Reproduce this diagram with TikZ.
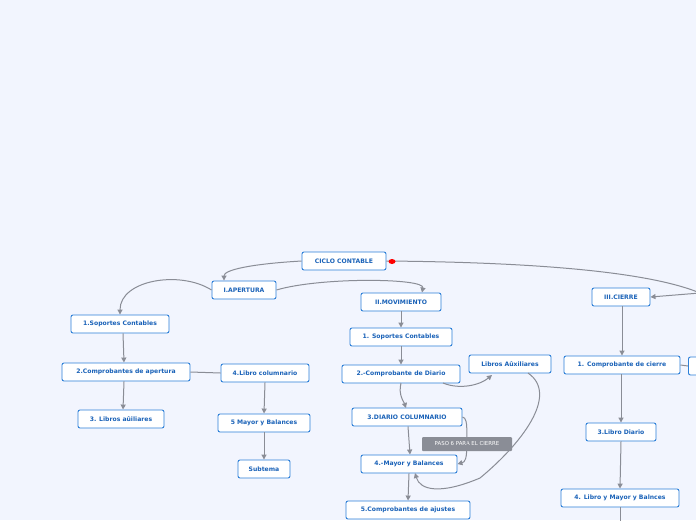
\documentclass[tikz,border=0pt]{standalone}
\usepackage{fontspec}
\setmainfont{DejaVu Sans}
\usetikzlibrary{arrows.meta}
\definecolor{bg}{HTML}{F2F5FE}
\definecolor{bl}{HTML}{2C7FD8}
\definecolor{tx}{HTML}{1A62B8}
\definecolor{ln}{HTML}{8A8D96}
\tikzset{x=1pt,y=-1pt,
 box/.style={draw=bl,fill=white,rounded corners=2pt,line width=0.9pt,minimum height=18,inner sep=0pt,font=\fontsize{6.1}{7}\selectfont\bfseries,text=tx},
 con/.style={draw=ln,line width=1pt,-{Triangle[length=5pt,width=5pt]}},
 pl/.style={draw=ln,line width=1pt}}
\begin{document}
\begin{tikzpicture}
\fill[bg] (0,0) rectangle (696,520);
\useasboundingbox (0,0) rectangle (696,520);
\node[box,minimum width=84] (c) at (344,261) {CICLO CONTABLE};
\node[box,minimum width=64] (a) at (244,290) {I.APERTURA};
\node[box,minimum width=80] (m) at (401,302) {II.MOVIMIENTO};
\node[box,minimum width=58] (ci) at (621,297) {III.CIERRE};
\node[box,minimum width=98] (a1) at (120,324) {1.Soportes Contables};
\node[box,minimum width=128] (a2) at (126,372) {2.Comprobantes de apertura};
\node[box,minimum width=86] (a3) at (121,419) {3. Libros aûiliares};
\node[box,minimum width=88] (a4) at (265,373) {4.Libro columnario};
\node[box,minimum width=92] (a5) at (264,423) {5 Mayor y Balances};
\node[box,minimum width=52] (a6) at (264,469) {Subtema};
\node[box,minimum width=102] (m1) at (401,337) {1. Soportes Contables};
\node[box,minimum width=118] (m2) at (401,374) {2.-Comprobante de Diario};
\node[box,minimum width=82] (la) at (510,364) {Libros Aûxiliares};
\node[box,minimum width=110] (m3) at (407,417) {3.DIARIO COLUMNARIO};
\node[box,minimum width=96] (m4) at (409,464) {4.-Mayor y Balances};
\node[box,minimum width=124] (m5) at (408,510) {5.Comprobantes de ajustes};
\node[box,minimum width=116] (c1) at (622,365) {1. Comprobante de cierre};
\node[box,minimum width=40,anchor=west] (c2) at (688,366) {};
\node[box,minimum width=70] (c3) at (621,432) {3.Libro Diario};
\node[box,minimum width=118] (c4) at (620,498) {4. Libro y Mayor y Balnces};
\node[fill=ln,rounded corners=1pt,minimum width=90,minimum height=14,inner sep=0pt,text=white,font=\fontsize{5.4}{6}\selectfont] (p) at (467,444) {PASO 6 PARA EL CIERRE};
\coordinate (off) at (700,293);
\coordinate (off2) at (620,525);
\draw[con] (c.west) .. controls (250,264) and (224,270) .. (a.north west -| 224,0) ;
\draw[con] (a.east) .. controls (320,277) and (425,278) .. (m.north -| 422,0);
\draw[pl] (c.east) .. controls (500,262) and (640,268) .. (off);
\draw[con] (off) -- (ci.east);
\fill[red] (392,261.5) ellipse (3.5 and 2.5);
\draw[con] (a.west) .. controls (180,270) and (120,280) .. (a1.north);
\draw[con] (a1.south -| 123,0) -- (a2.north -| 124,0);
\draw[con] (a2.south -| 124,0) -- (a3.north -| 123,0);
\draw[pl] (a2.east) -- (a4.west);
\draw[con] (a4.south) -- (a5.north);
\draw[con] (a5.south) -- (a6.north);
\draw[con] (m.south) -- (m1.north);
\draw[con] (m1.south) -- (m2.north);
\draw[con] (443,383) .. controls (460,390) and (480,385) .. (492,375);
\draw[con] (401,383) .. controls (398,395) and (404,402) .. (406,408);
\draw[con] (m3.south -| 408,0) -- (m4.north -| 410,0);
\draw[pl] (m3.east) .. controls (466,418) and (467,420) .. (467,440);
\draw[con] (467,440) .. controls (467,460) and (465,462) .. (m4.east);
\draw[con] (528,373) .. controls (560,395) and (520,445) .. (480,478) .. controls (440,495) and (420,490) .. (415,473);
\draw[con] (m4.south -| 409,0) -- (m5.north -| 408,0);
\draw[con] (ci.south -| 622,0) -- (c1.north);
\draw[pl] (c1.east) -- (c2.west);
\draw[con] (c1.south -| 621,0) -- (c3.north);
\draw[con] (c3.south) -- (c4.north);
\draw[pl] (c4.south) -- (off2);
\end{tikzpicture}
\end{document}
